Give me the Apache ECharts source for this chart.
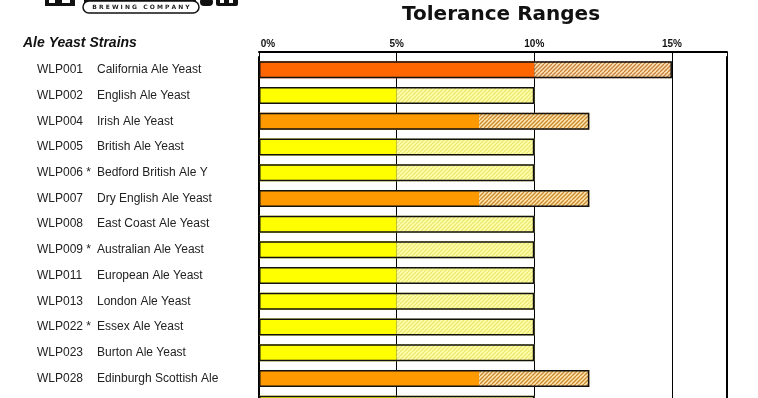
<!DOCTYPE html>
<html>
<head>
<meta charset="utf-8">
<script src="https://cdn.jsdelivr.net/npm/echarts@6/dist/echarts.min.js"></script>
<style>
  html, body { margin: 0; padding: 0; background: #fff; overflow: hidden; }
  #main { width: 758px; height: 417px; }
</style>
</head>
<body>
<div id="main"></div>
<script>
// strains, top to bottom
const codes = ['WLP001', 'WLP002', 'WLP004', 'WLP005', 'WLP006 *', 'WLP007', 'WLP008',
  'WLP009 *', 'WLP011', 'WLP013', 'WLP022 *', 'WLP023', 'WLP028', 'WLP029']
const names = ['California Ale Yeast', 'English Ale Yeast', 'Irish Ale Yeast', 'British Ale Yeast',
  'Bedford British Ale Y', 'Dry English Ale Yeast', 'East Coast Ale Yeast', 'Australian Ale Yeast',
  'European Ale Yeast', 'London Ale Yeast', 'Essex Ale Yeast', 'Burton Ale Yeast',
  'Edinburgh Scottish Ale', 'German Ale/Kölsch']
// alcohol tolerance range, %
const lowPct = [10, 5, 8, 5, 5, 8, 5, 5, 5, 5, 5, 5, 8, 5]
const highPct = [15, 10, 12, 10, 10, 12, 10, 10, 10, 10, 10, 10, 12, 10]
const tolerance = ['very high', 'medium', 'high', 'medium', 'medium', 'high', 'medium',
  'medium', 'medium', 'medium', 'medium', 'medium', 'high', 'medium']
const xTicks = [0, 5, 10, 15]

function makeHatch(bg, fg) {
  const c = document.createElement('canvas')
  c.width = 8
  c.height = 8
  const ctx = c.getContext('2d')
  ctx.fillStyle = bg
  ctx.fillRect(0, 0, 8, 8)
  ctx.strokeStyle = fg
  ctx.lineWidth = 1.3
  for (let x = -8; x <= 8; x += 4) {
    ctx.beginPath()
    ctx.moveTo(x, 8)
    ctx.lineTo(x + 8, 0)
    ctx.stroke()
  }
  return { image: c, repeat: 'repeat' }
}

const solidColor = { 'very high': '#FF6600', high: '#FF9900', medium: '#FFFF00' }
const hatchColor = {
  'very high': makeHatch('#FFE2B8', '#C8823C'),
  high: makeHatch('#FFE6B0', '#CC8A30'),
  medium: makeHatch('#FFFFB0', '#ECE870'),
}

const chart = echarts.init(document.getElementById('main'))

const option = {
  animation: false,
  backgroundColor: '#fff',
  title: [
    {
      text: 'Tolerance Ranges',
      left: 402,
      top: 5,
      padding: 0,
      textStyle: { fontFamily: 'DejaVu Sans', fontWeight: 'bold', fontSize: 20, color: '#111' },
    },
    {
      text: 'Ale Yeast Strains',
      left: 23,
      top: 36,
      padding: 0,
      textStyle: { fontFamily: 'Liberation Sans', fontStyle: 'italic', fontWeight: 'bold', fontSize: 14, color: '#111' },
    },
  ],
  graphic: [
    // cut-off brewery logo
    { type: 'rect', shape: { x: 45, y: -2, width: 30, height: 8 }, style: { fill: '#111' } },
    { type: 'rect', shape: { x: 49, y: 0, width: 6, height: 3 }, style: { fill: '#fff' } },
    { type: 'rect', shape: { x: 62, y: 0, width: 8, height: 3 }, style: { fill: '#fff' } },
    { type: 'rect', shape: { x: 84, y: -2, width: 112, height: 5 }, style: { fill: '#111' } },
    { type: 'rect', shape: { x: 200, y: -2, width: 13, height: 8, r: 4 }, style: { fill: '#111' } },
    { type: 'rect', shape: { x: 216, y: -2, width: 22, height: 8, r: 2 }, style: { fill: '#111' } },
    { type: 'rect', shape: { x: 220, y: -2, width: 4, height: 5 }, style: { fill: '#fff' } },
    { type: 'rect', shape: { x: 229, y: -2, width: 4, height: 5 }, style: { fill: '#fff' } },
    {
      type: 'rect',
      shape: { x: 83, y: 1, width: 116, height: 12, r: 6 },
      style: { fill: '#fff', stroke: '#111', lineWidth: 1.5 },
    },
    {
      type: 'text',
      x: 141,
      y: 7.5,
      style: {
        text: 'B R E W I N G   C O M P A N Y',
        fontFamily: 'DejaVu Sans',
        fontWeight: 'bold',
        fontSize: 6,
        fill: '#222',
        align: 'center',
        verticalAlign: 'middle',
      },
    },
  ],
  grid: {
    left: 259,
    right: 31,
    top: 57,
    bottom: 0,
    containLabel: false,
  },
  xAxis: {
    type: 'value',
    position: 'top',
    offset: 5,
    min: 0,
    max: 17,
    interval: 5,
    axisLine: { show: true, lineStyle: { color: '#000', width: 2 } },
    axisTick: { show: true, inside: true, length: 5, lineStyle: { color: '#000', width: 1 } },
    splitLine: { show: true, lineStyle: { color: '#000', width: 1 } },
    axisLabel: {
      margin: 3,
      fontFamily: 'Liberation Sans',
      fontWeight: 'bold',
      fontSize: 10,
      color: '#111',
      formatter(value) {
        if (xTicks.indexOf(value) < 0) return ''
        if (value === 0) return '{first|0%}'
        return value + '%'
      },
      rich: {
        first: {
          fontFamily: 'Liberation Sans',
          fontWeight: 'bold',
          fontSize: 10,
          color: '#111',
          padding: [0, 0, 0, 18],
        },
      },
    },
  },
  yAxis: [
    {
      type: 'category',
      inverse: true,
      data: codes,
      axisLine: { show: true, lineStyle: { color: '#000', width: 2 } },
      axisTick: { show: false },
      splitLine: { show: false },
      axisLabel: {
        align: 'left',
        margin: 222,
        fontFamily: 'Liberation Sans',
        fontSize: 12,
        color: '#222',
        formatter(value, index) {
          return '{code|' + value + '}{name|' + names[index] + '}'
        },
        rich: {
          code: { width: 60, fontFamily: 'Liberation Sans', fontSize: 12, color: '#222' },
          name: { fontFamily: 'Liberation Sans', fontSize: 12, color: '#222' },
        },
      },
    },
    {
      type: 'category',
      inverse: true,
      position: 'right',
      data: codes,
      axisLine: { show: true, lineStyle: { color: '#000', width: 2 } },
      axisTick: { show: false },
      axisLabel: { show: false },
      splitLine: { show: false },
    },
  ],
  series: [
    {
      name: 'low',
      type: 'bar',
      stack: 'range',
      barWidth: 17,
      barGap: '-100%',
      data: lowPct.map((v, i) => ({ value: v, itemStyle: { color: solidColor[tolerance[i]] } })),
    },
    {
      name: 'high',
      type: 'bar',
      stack: 'range',
      barWidth: 17,
      barGap: '-100%',
      data: highPct.map((v, i) => ({ value: v - lowPct[i], itemStyle: { color: hatchColor[tolerance[i]] } })),
    },
    {
      name: 'outline',
      type: 'bar',
      barWidth: 17,
      barGap: '-100%',
      z: 5,
      silent: true,
      itemStyle: { color: 'rgba(0,0,0,0)', borderColor: '#111', borderWidth: 1.5 },
      data: highPct,
    },
  ],
}

chart.setOption(option)
</script>
</body>
</html>
